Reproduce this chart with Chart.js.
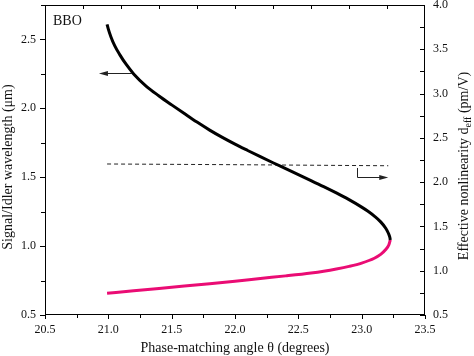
<!DOCTYPE html>
<html><head><meta charset="utf-8">
<script src="https://cdn.jsdelivr.net/npm/chart.js@4/dist/chart.umd.min.js"></script>
<style>html,body{margin:0;padding:0;background:#fff}</style>
</head><body>
<canvas id="c" width="474" height="356"></canvas>
<script>
// ---- data ----
const signalTheta = [20.99, 21.00, 21.02, 21.05, 21.09, 21.14, 21.20, 21.30, 21.40, 21.50, 21.60, 21.70, 21.80, 21.90, 22.00, 22.10, 22.20, 22.30, 22.40, 22.50, 22.60, 22.70, 22.80, 22.90, 23.00, 23.05, 23.10, 23.15, 23.19, 23.21, 23.222, 23.226];
const signalWave  = [2.61, 2.575, 2.52, 2.455, 2.39, 2.32, 2.25, 2.16, 2.09, 2.025, 1.962, 1.90, 1.842, 1.789, 1.74, 1.694, 1.649, 1.605, 1.562, 1.519, 1.476, 1.432, 1.386, 1.337, 1.283, 1.253, 1.218, 1.176, 1.13, 1.095, 1.065, 1.045];
const idlerTheta  = [20.99, 21.20, 21.40, 21.60, 21.80, 22.00, 22.20, 22.40, 22.60, 22.70, 22.80, 22.90, 23.00, 23.10, 23.15, 23.19, 23.215, 23.226];
const idlerWave   = [0.658, 0.676, 0.693, 0.71, 0.727, 0.745, 0.765, 0.784, 0.805, 0.818, 0.834, 0.853, 0.877, 0.912, 0.94, 0.975, 1.01, 1.045];
const deffTheta   = [20.99, 22.0, 23.21];
const deffValue   = [2.205, 2.197, 2.185];
const xTicks      = [20.5, 21.0, 21.5, 22.0, 22.5, 23.0, 23.5];
const leftTicks   = [0.5, 1.0, 1.5, 2.0, 2.5];
const rightTicks  = [0.5, 1.0, 1.5, 2.0, 2.5, 3.0, 3.5, 4.0];
const xTitle = 'Phase-matching angle \u03b8 (degrees)';
const yTitle = 'Signal/Idler wavelength (\u03bcm)';
const y2TitleMain = 'Effective nonlinearity d';
const y2TitleSub = 'eff';
const y2TitleEnd = ' (pm/V)';
const crystalLabel = 'BBO';
// annotation arrows in data units
const leftArrow = {x0: 21.187, x1: 20.926, y: 2.253};
const rightArrow = {x: 22.96, y0: 2.16, y1: 2.06, x1: 23.21};

const zip = (xs, ys) => xs.map((x, i) => ({x, y: ys[i]}));
const FONT = "'Liberation Serif', 'DejaVu Serif', serif";

function arrowHead(ctx, x, y, dir) { // dir: -1 left, +1 right
  ctx.beginPath();
  ctx.moveTo(x, y);
  ctx.lineTo(x - dir * 9, y - 2.5);
  ctx.lineTo(x - dir * 9, y + 2.5);
  ctx.closePath();
  ctx.fill();
}

const decor = {
  id: 'decor',
  afterDraw(chart) {
    const ctx = chart.ctx, a = chart.chartArea;
    const sx = chart.scales.x, sy = chart.scales.y, sy2 = chart.scales.y2;
    ctx.save();
    ctx.strokeStyle = '#000'; ctx.fillStyle = '#000'; ctx.lineWidth = 1;
    // frame
    ctx.strokeRect(a.left + 0.5, a.top + 0.5, a.right - a.left - 1, a.bottom - a.top - 1);
    ctx.beginPath();
    // bottom ticks (outward)
    for (let v = 20.5; v <= 23.5001; v += 0.25) {
      const px = Math.round(sx.getPixelForValue(v)) + 0.5;
      const major = Math.abs(v * 2 - Math.round(v * 2)) < 1e-6;
      ctx.moveTo(px, a.bottom); ctx.lineTo(px, a.bottom + (major ? 4 : 3));
    }
    // top ticks (inward, 10 divisions)
    for (let i = 1; i < 10; i++) {
      const px = Math.round(sx.getPixelForValue(20.5 + i * 0.3)) + 0.5;
      ctx.moveTo(px, a.top); ctx.lineTo(px, a.top + 4);
    }
    // left ticks (outward)
    for (let v = 0.5; v <= 2.7501; v += 0.25) {
      const py = Math.round(sy.getPixelForValue(v)) + 0.5;
      const major = Math.abs(v * 2 - Math.round(v * 2)) < 1e-6;
      ctx.moveTo(a.left, py); ctx.lineTo(a.left - (major ? 5 : 4), py);
    }
    // right ticks (inward)
    for (let v = 0.5; v <= 4.0001; v += 0.25) {
      const py = Math.round(sy2.getPixelForValue(v)) + 0.5;
      ctx.moveTo(a.right, py); ctx.lineTo(a.right - 5, py);
    }
    ctx.stroke();

    // arrows
    ctx.lineWidth = 1;
    ctx.strokeStyle = '#222'; ctx.fillStyle = '#222';
    const lx0 = sx.getPixelForValue(leftArrow.x0), lx1 = sx.getPixelForValue(leftArrow.x1);
    const ly = Math.round(sy.getPixelForValue(leftArrow.y)) + 0.5;
    ctx.beginPath(); ctx.moveTo(lx0, ly); ctx.lineTo(lx1 + 6, ly); ctx.stroke();
    arrowHead(ctx, lx1, ly, -1);
    const rx = Math.round(sx.getPixelForValue(rightArrow.x)) + 0.5;
    const ry0 = sy2.getPixelForValue(rightArrow.y0), ry1 = Math.round(sy2.getPixelForValue(rightArrow.y1)) + 0.5;
    const rx1 = sx.getPixelForValue(rightArrow.x1);
    ctx.beginPath(); ctx.moveTo(rx, ry0); ctx.lineTo(rx, ry1); ctx.lineTo(rx1 - 6, ry1); ctx.stroke();
    arrowHead(ctx, rx1, ry1, 1);

    // tick labels
    ctx.fillStyle = '#111';
    ctx.font = '12px ' + FONT;
    ctx.textBaseline = 'middle';
    ctx.textAlign = 'center';
    xTicks.forEach(v => ctx.fillText(v.toFixed(1), sx.getPixelForValue(v), a.bottom + 15));
    ctx.textAlign = 'right';
    leftTicks.forEach(v => ctx.fillText(v.toFixed(1), a.left - 9, sy.getPixelForValue(v)));
    ctx.textAlign = 'left';
    rightTicks.forEach(v => ctx.fillText(v.toFixed(1), a.right + 8, sy2.getPixelForValue(v)));

    // texts
    ctx.font = '14px ' + FONT;
    ctx.textAlign = 'left';
    ctx.fillText(crystalLabel, a.left + 8, a.top + 16);
    ctx.textAlign = 'center';
    ctx.fillText(xTitle, (a.left + a.right) / 2, 348);
    // left title
    ctx.save();
    ctx.translate(8, (a.top + a.bottom) / 2 + 7);
    ctx.rotate(-Math.PI / 2);
    ctx.fillText(yTitle, 0, 0);
    ctx.restore();
    // right title with subscript
    ctx.save();
    ctx.translate(464, (a.top + a.bottom) / 2 + 6);
    ctx.rotate(-Math.PI / 2);
    ctx.font = '14px ' + FONT;
    const w1 = ctx.measureText(y2TitleMain).width;
    const w3 = ctx.measureText(y2TitleEnd).width;
    ctx.font = '10px ' + FONT;
    const w2 = ctx.measureText(y2TitleSub).width;
    let start = -(w1 + w2 + w3) / 2;
    ctx.textAlign = 'left';
    ctx.font = '14px ' + FONT;
    ctx.fillText(y2TitleMain, start, 0);
    ctx.font = '10px ' + FONT;
    ctx.fillText(y2TitleSub, start + w1, 4);
    ctx.font = '14px ' + FONT;
    ctx.fillText(y2TitleEnd, start + w1 + w2, 0);
    ctx.restore();
    ctx.restore();
  }
};

const hiddenTicks = {display: false};
new Chart(document.getElementById('c'), {
  type: 'scatter',
  data: {
    datasets: [
      {data: zip(signalTheta, signalWave), yAxisID: 'y', showLine: true, borderColor: '#000', borderWidth: 3, pointRadius: 0, cubicInterpolationMode: 'monotone', fill: false},
      {data: zip(idlerTheta, idlerWave), yAxisID: 'y', showLine: true, borderColor: '#ea0c74', borderWidth: 3, pointRadius: 0, cubicInterpolationMode: 'monotone', fill: false},
      {data: zip(deffTheta, deffValue), yAxisID: 'y2', showLine: true, borderColor: '#222', borderWidth: 1, borderDash: [4, 3], pointRadius: 0, tension: 0, fill: false}
    ]
  },
  options: {
    responsive: false,
    devicePixelRatio: 1,
    animation: false,
    layout: {padding: {top: 5, left: 0, right: 0, bottom: 0}},
    plugins: {legend: {display: false}, tooltip: {enabled: false}},
    scales: {
      x: {
        type: 'linear', position: 'bottom', min: 20.5, max: 23.5,
        afterBuildTicks: s => { s.ticks = xTicks.map(v => ({value: v})); },
        afterFit: s => { s.height = 41; },
        grid: {display: false, drawTicks: false},
        border: {display: false},
        ticks: hiddenTicks
      },
      y: {
        type: 'linear', position: 'left', min: 0.5, max: 2.75,
        afterBuildTicks: s => { s.ticks = leftTicks.map(v => ({value: v})); },
        afterFit: s => { s.width = 45; },
        grid: {display: false, drawTicks: false},
        border: {display: false},
        ticks: hiddenTicks
      },
      y2: {
        type: 'linear', position: 'right', min: 0.5, max: 4.0,
        afterBuildTicks: s => { s.ticks = rightTicks.map(v => ({value: v})); },
        afterFit: s => { s.width = 49; },
        grid: {display: false, drawTicks: false},
        border: {display: false},
        ticks: hiddenTicks
      }
    }
  },
  plugins: [decor]
});
</script>
</body></html>
